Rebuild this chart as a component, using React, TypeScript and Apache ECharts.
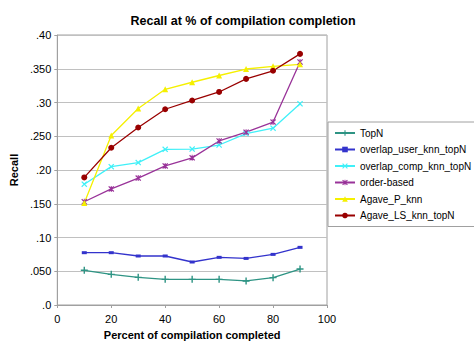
import React, { useEffect, useRef } from "react";
import * as echarts from "echarts";

const xValues = [10, 20, 30, 40, 50, 60, 70, 80, 90];
const topN = [0.0514, 0.0454, 0.041, 0.038, 0.038, 0.038, 0.0356, 0.0405, 0.0533];
const overlapUser = [0.0775, 0.0775, 0.0726, 0.0726, 0.0637, 0.0706, 0.069, 0.075, 0.0854];
const overlapComp = [0.179, 0.205, 0.211, 0.2306, 0.231, 0.237, 0.254, 0.262, 0.298];
const orderBased = [0.153, 0.172, 0.188, 0.206, 0.218, 0.243, 0.256, 0.271, 0.36];
const agaveP = [0.151, 0.251, 0.291, 0.3195, 0.33, 0.34, 0.3496, 0.3536, 0.3565];
const agaveLS = [0.189, 0.233, 0.263, 0.29, 0.303, 0.3156, 0.335, 0.347, 0.372];
const yTickLabels: Record<string, string> = {
  "0": ".0", "0.05": ".050", "0.1": ".10", "0.15": ".150", "0.2": ".20",
  "0.25": ".250", "0.3": ".30", "0.35": ".350", "0.4": ".40",
};

const PLUS = "path://M4 0 L6 0 L6 4 L10 4 L10 6 L6 6 L6 10 L4 10 L4 6 L0 6 L0 4 L4 4 Z";
const CROSS = "path://M0 1.4 L1.4 0 L5 3.6 L8.6 0 L10 1.4 L6.4 5 L10 8.6 L8.6 10 L5 6.4 L1.4 10 L0 8.6 L3.6 5 Z";
const STAR = "path://M0 1.4 L1.4 0 L5 3.6 L8.6 0 L10 1.4 L6.4 5 L10 8.6 L8.6 10 L5 6.4 L1.4 10 L0 8.6 L3.6 5 Z M4.2 0 L5.8 0 L5.8 10 L4.2 10 Z";
const DASH = "path://M0 0 L10 0 L10 6 L0 6 Z";

const FONT = "Liberation Sans, Arial, sans-serif";

function mk(name: string, vals: number[], color: string, symbol: string, size: number | number[]) {
  return {
    name,
    type: "line",
    data: xValues.map((x, i) => [x, vals[i]]),
    symbol,
    symbolSize: size,
    lineStyle: { color, width: 1.3 },
    itemStyle: { color },
    emphasis: { disabled: true },
  };
}

export default function App() {
  const ref = useRef<HTMLDivElement>(null);
  useEffect(() => {
    if (!ref.current) return;
    const chart = echarts.init(ref.current, null, { renderer: "svg" });
    chart.setOption({
      animation: false,
      backgroundColor: "#ffffff",
      title: {
        text: "Recall at % of compilation completion",
        left: 238,
        textAlign: "center",
        top: 9,
        textStyle: { fontFamily: FONT, fontSize: 12.5, fontWeight: "bold", color: "#000" },
      },
      grid: {
        left: 54, top: 35, right: 147, bottom: 40,
        show: true, borderColor: "#a0a0a0", borderWidth: 1,
      },
      legend: {
        orient: "vertical",
        left: 328,
        top: 122,
        itemWidth: 20,
        itemHeight: 7,
        itemGap: 6.5,
        padding: [6, 30, 6, 6],
        borderColor: "#a0a0a0",
        borderWidth: 1,
        textStyle: { fontFamily: FONT, fontSize: 10, color: "#000" },
        data: ["TopN", "overlap_user_knn_topN", "overlap_comp_knn_topN", "order-based", "Agave_P_knn", "Agave_LS_knn_topN"],
      },
      xAxis: {
        type: "value",
        min: 0, max: 100, interval: 20,
        name: "Percent of compilation completed",
        nameLocation: "middle",
        nameGap: 24,
        nameTextStyle: { fontFamily: FONT, fontSize: 11, fontWeight: "bold", color: "#000" },
        axisLine: { show: true, lineStyle: { color: "#a0a0a0" } },
        axisTick: { show: true, inside: false, length: 3, lineStyle: { color: "#a0a0a0" } },
        axisLabel: { fontFamily: FONT, fontSize: 11, color: "#000", margin: 8 },
        splitLine: { show: false },
      },
      yAxis: {
        type: "value",
        min: 0, max: 0.4, interval: 0.05,
        name: "Recall",
        nameLocation: "middle",
        nameGap: 38,
        nameRotate: 90,
        nameTextStyle: { fontFamily: FONT, fontSize: 11, fontWeight: "bold", color: "#000" },
        axisLine: { show: true, lineStyle: { color: "#a0a0a0" } },
        axisTick: { show: true, inside: false, length: 3, lineStyle: { color: "#a0a0a0" } },
        axisLabel: {
          fontFamily: FONT, fontSize: 11, color: "#000", margin: 6,
          formatter: (v: number) => yTickLabels[String(Math.round(v * 100) / 100)] ?? String(v),
        },
        splitLine: { show: true, lineStyle: { color: "#c0c0c0", width: 1 } },
      },
      series: [
        mk("TopN", topN, "#2e9484", PLUS, 7),
        mk("overlap_user_knn_topN", overlapUser, "#3333cc", DASH, [5, 3]),
        mk("overlap_comp_knn_topN", overlapComp, "#40f0f8", CROSS, 6),
        mk("order-based", orderBased, "#993399", STAR, 6),
        mk("Agave_P_knn", agaveP, "#f5f000", "triangle", 6),
        mk("Agave_LS_knn_topN", agaveLS, "#990000", "circle", 6),
      ],
    });
    return () => chart.dispose();
  }, []);
  return <div ref={ref} style={{ width: 474, height: 345, position: "absolute", left: 0, top: 0 }} />;
}
